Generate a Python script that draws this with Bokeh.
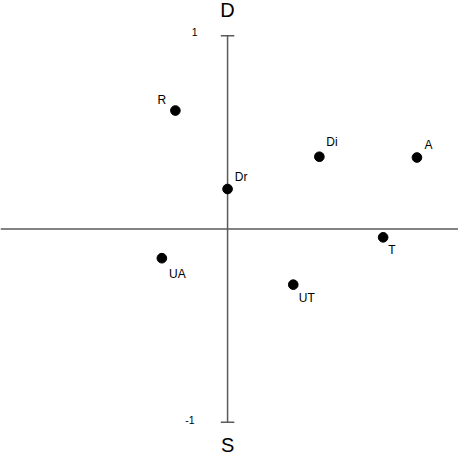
from bokeh.plotting import figure
from bokeh.models import ColumnDataSource, Range1d
from bokeh.core.properties import value
from bokeh.embed import file_html
from bokeh.resources import INLINE

# ---- data ----
labels = ["R", "Di", "A", "Dr", "T", "UA", "UT"]
xs = [-0.27, 0.475, 0.98, 0.0, 0.805, -0.34, 0.34]
ys = [0.613, 0.374, 0.37, 0.207, -0.043, -0.151, -0.288]
axis_top_label = "D"
axis_bottom_label = "S"
tick_values = [1, -1]
tick_labels = ["1", "-1"]

W = H = 458
S = W / 474.0  # scale from reference pixels

# label pixel offsets (placement only, reference pixels)
lab_dx = [v * S for v in [-14, 13, 12, 14, 9, 16, 14]]
lab_dy = [v * S for v in [-11, -15, -13, -12, 13, 16, 14]]

X0, X1 = -1.175, 1.195
Y0, Y1 = -1.1875, 1.1825

p = figure(width=W, height=H, output_backend="svg", toolbar_location=None,
           x_range=Range1d(X0, X1), y_range=Range1d(Y0, Y1), min_border=0)
p.axis.visible = False
p.grid.visible = False
p.outline_line_color = None
p.background_fill_color = "white"
p.border_fill_color = "white"

lc = "#5a5a5a"
lw = 1.5
# horizontal axis line
p.segment(x0=[X0], y0=[0], x1=[X1], y1=[0], line_color=lc, line_width=lw)
# vertical axis line with caps
p.segment(x0=[0], y0=[min(tick_values)], x1=[0], y1=[max(tick_values)], line_color=lc, line_width=lw)
cap = 0.035
p.segment(x0=[-cap, -cap], y0=tick_values, x1=[cap, cap], y1=tick_values, line_color=lc, line_width=lw)

# tick labels
p.text(x=[-0.17, -0.195], y=[1.0175, -0.9875], text=tick_labels,
       text_font=value("Liberation Sans"), text_font_size="10.5px",
       text_align="center", text_baseline="middle", text_color="black")

# axis end labels
p.text(x=[0], y=[1.1325], text=[axis_top_label], text_font=value("Liberation Sans"),
       text_font_size="20px", text_align="center", text_baseline="middle", text_color="black")
p.text(x=[0], y=[-1.12], text=[axis_bottom_label], text_font=value("Liberation Sans"),
       text_font_size="20px", text_align="center", text_baseline="middle", text_color="black")

src = ColumnDataSource(dict(x=xs, y=ys, label=labels, dx=lab_dx, dy=lab_dy))
p.scatter(x="x", y="y", source=src, size=10 * S, color="black")
p.text(x="x", y="y", text="label", x_offset="dx", y_offset="dy", source=src,
       text_font=value("Liberation Sans"), text_font_size="12px",
       text_align="center", text_baseline="middle", text_color="black")

open("out.html", "w").write(file_html(p, INLINE))
